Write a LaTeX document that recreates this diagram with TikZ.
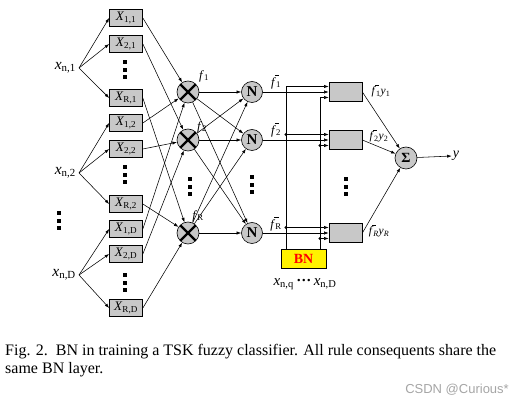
\documentclass[tikz,border=0pt]{standalone}
\usepackage{fontspec}
\setmainfont{Liberation Serif}
\newfontfamily\wmfont{Liberation Sans}
\usetikzlibrary{arrows.meta,calc}
\definecolor{boxgray}{RGB}{200,200,200}
\definecolor{wmgray}{RGB}{165,165,165}
\newcommand\sbs[1]{\textsubscript{#1}}
\newcommand\fb{\makebox[0pt][l]{\kern0.3em\raisebox{0.82em}{\rule{0.36em}{0.05em}}}\textit{f}}
\tikzset{
  arr/.style={-{Latex[length=4.5pt,width=3.2pt]}, line width=0.55pt},
  ln/.style={line width=0.55pt},
  mf/.style={draw, fill=boxgray, minimum width=33pt, minimum height=17pt, inner sep=0pt, line width=0.7pt, font=\fontsize{13}{13}\selectfont},
  cons/.style={draw, fill=boxgray, minimum width=33pt, minimum height=19pt, inner sep=0pt, line width=0.7pt},
  prod/.style={circle, draw, fill=boxgray, minimum size=22pt, inner sep=0pt, line width=0.6pt,
    path picture={\draw[line width=2.4pt]
      ($(path picture bounding box.center)+(-8pt,-8pt)$) -- ($(path picture bounding box.center)+(8pt,8pt)$)
      ($(path picture bounding box.center)+(-8pt,8pt)$) -- ($(path picture bounding box.center)+(8pt,-8pt)$);}},
  norm/.style={circle, draw, fill=boxgray, minimum size=21pt, inner sep=0pt, line width=0.6pt, font=\fontsize{15}{15}\selectfont\bfseries},
  inp/.style={anchor=east, inner xsep=3pt, inner ysep=1pt, font=\fontsize{15.5}{15.5}\selectfont},
  lab/.style={inner sep=0pt, font=\fontsize{12.5}{12.5}\selectfont},
  vdots/.pic={\foreach \d in {-7.5,0,7.5}{\fill (-2,\d-2) rectangle (2,\d+2);}}
}
\begin{document}
\begin{tikzpicture}[x=1pt,y=-1pt]
\useasboundingbox (0,0) rectangle (531,403);
% membership function boxes
\node[mf] (m11) at (126,18)  {\textit{X}\sbs{1,1}};
\node[mf] (m21) at (126,44)  {\textit{X}\sbs{2,1}};
\node[mf] (mR1) at (126,98)  {\textit{X}\sbs{R,1}};
\node[mf] (m12) at (126,123) {\textit{X}\sbs{1,2}};
\node[mf] (m22) at (126,149) {\textit{X}\sbs{2,2}};
\node[mf] (mR2) at (126,204) {\textit{X}\sbs{R,2}};
\node[mf] (m1D) at (126,229) {\textit{X}\sbs{1,D}};
\node[mf] (m2D) at (126,254) {\textit{X}\sbs{2,D}};
\node[mf] (mRD) at (126,308) {\textit{X}\sbs{R,D}};
\pic at (125,70) {vdots};
\pic at (125,175) {vdots};
\pic at (125,283) {vdots};
% inputs
\node[inp] (xn1) at (79,68)  {\textit{x}\sbs{n,1}};
\node[inp] (xn2) at (79,173) {\textit{x}\sbs{n,2}};
\node[inp] (xnD) at (79,275) {\textit{x}\sbs{n,D}};
\pic at (59,221) {vdots};
\foreach \a/\b in {xn1/m11,xn1/m21,xn1/mR1,xn2/m12,xn2/m22,xn2/mR2,xnD/m1D,xnD/m2D,xnD/mRD}
  \draw[arr] (\a.east) -- (\b.west);
% product nodes
\node[prod] (p1) at (188,92)  {};
\node[prod] (p2) at (188,140) {};
\node[prod] (pR) at (188,233) {};
\pic at (190,187) {vdots};
\node[lab] (lf1) at (204,76)  {\textit{f}\sbs{1}};
\node[lab] (lf2) at (202,127) {\textit{f}\sbs{2}};
\node[lab] (lfR) at (198,216) {\textit{f}\sbs{R}};
\foreach \a/\b in {m11/p1,m12/p1,m1D/p1,m21/p2,m22/p2,m2D/p2,mR1/pR,mR2/pR,mRD/pR}
  \draw[arr] (\a.east) -- (\b);
% normalisation nodes
\node[norm] (n1) at (252,92)  {N};
\node[norm] (n2) at (252,140) {N};
\node[norm] (nR) at (252,233) {N};
\pic at (252,185) {vdots};
\foreach \a in {p1,p2,pR}
  \foreach \b in {n1,n2,nR}
    \draw[arr] (\a) -- (\b);
\node[lab] (lb1) at (276,82)  {\fb\sbs{1}};
\node[lab] (lb2) at (276,130) {\fb\sbs{2}};
\node[lab] (lbR) at (276,224) {\fb\sbs{R}};
% consequent boxes
\node[cons] (c1) at (345.5,92)  {};
\node[cons] (c2) at (345.5,140) {};
\node[cons] (cR) at (345.5,233) {};
\pic at (346,187) {vdots};
\draw[arr] (n1) -- (c1.west);
\draw[arr] (n2) -- (c2.west);
\draw[arr] (nR) -- (cR.west);
% BN layer
\node[draw, fill=yellow, line width=0.7pt, minimum width=45pt, minimum height=19pt, inner sep=0pt,
      text=red, font=\fontsize{14}{14}\selectfont\bfseries] (BN) at (303.5,258.5) {BN};
\coordinate (qa) at ([xshift=-17.5pt]BN.north);
\coordinate (qb) at ([xshift=16.5pt]BN.north);
\draw[arr] (qa) |- ([yshift=5.5pt]c1.west);
\draw[arr] (qb) |- ([yshift=-5.5pt]c1.west);
\foreach \c in {c2,cR}{
  \draw[arr] ([yshift=5.5pt]\c.west -| qa) -- ([yshift=5.5pt]\c.west);
  \fill ([yshift=5.5pt]\c.west -| qa) circle (1.7pt);
  \draw[arr] ([yshift=-5.5pt]\c.west -| qb) -- ([yshift=-5.5pt]\c.west);
  \fill ([yshift=-5.5pt]\c.west -| qb) circle (1.7pt);
}
\node[inner sep=0pt, font=\fontsize{15}{15}\selectfont] (xin) at (305,284)
  {\textit{x}\sbs{n,q}\,\textbf{\textperiodcentered\textperiodcentered\textperiodcentered}\,\textit{x}\sbs{n,D}};
% sum node
\node[norm, minimum size=22pt, font=\fontsize{14}{14}\selectfont\bfseries] (s) at (406,158) {Σ};
\foreach \c in {c1,c2,cR}
  \draw[arr] (\c.east) -- (s);
\node[inner sep=1pt, font=\fontsize{14}{14}\selectfont] (yout) at (456,156) {\textit{y}};
\draw[arr] (s) -- (yout.west);
\node[lab, font=\fontsize{11.5}{11.5}\selectfont] (ly1) at (381,91)  {\fb\sbs{1}\textit{y}\sbs{1}};
\node[lab, font=\fontsize{11.5}{11.5}\selectfont] (ly2) at (379,136) {\fb\sbs{2}\textit{y}\sbs{2}};
\node[lab, font=\fontsize{11.5}{11.5}\selectfont] (lyR) at (379,231) {\fb\sbs{\textit{R}}\textit{y}\sbs{\textit{R}}};
% caption
\node[anchor=north west, inner sep=0pt, align=left, font=\fontsize{16}{18}\selectfont] (cap) at (5,344)
  {Fig. 2.\ \ BN in training a TSK fuzzy classifier. All rule consequents share the\\ same BN layer.};
\node[anchor=east, inner sep=0pt, text=wmgray, font=\wmfont\fontsize{13}{13}\selectfont] (wm) at (509,390) {CSDN @Curious*};
\end{tikzpicture}
\end{document}
